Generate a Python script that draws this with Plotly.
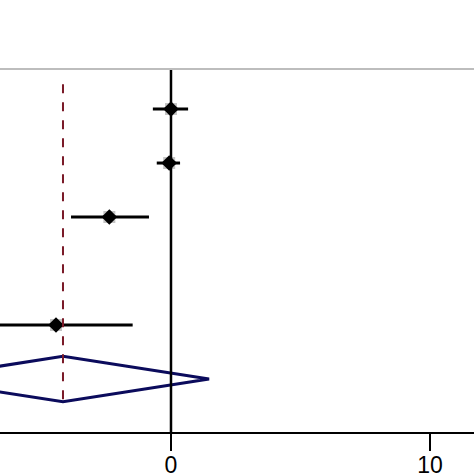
import plotly.graph_objects as go

# study rows (row index on the y axis, top to bottom)
rows = [1, 2, 3, 5]
estimate = [0.0, -0.07, -2.38, -4.44]
ci_low = [-0.70, -0.55, -3.86, -7.38]
ci_high = [0.66, 0.35, -0.85, -1.48]

# pooled estimate (diamond)
pooled_row = 6
pooled_est = -4.17
pooled_low = -9.81
pooled_high = 1.47

x_ticks = [-10, 0, 10, 20]

fig = go.Figure()

# weight boxes behind the points
fig.add_trace(go.Scatter(
    x=estimate, y=rows, mode="markers",
    marker=dict(symbol="square", size=12, color="#c4c4c4"),
    hoverinfo="skip",
))

# confidence intervals and point estimates
fig.add_trace(go.Scatter(
    x=estimate, y=rows, mode="markers",
    marker=dict(symbol="diamond", size=12, color="black"),
    error_x=dict(
        type="data", symmetric=False,
        array=[h - e for h, e in zip(ci_high, estimate)],
        arrayminus=[e - l for l, e in zip(ci_low, estimate)],
        color="black", thickness=3, width=0,
    ),
))

# pooled diamond
half = 0.42
fig.add_trace(go.Scatter(
    x=[pooled_low, pooled_est, pooled_high, pooled_est, pooled_low],
    y=[pooled_row, pooled_row - half, pooled_row, pooled_row + half, pooled_row],
    mode="lines", line=dict(color="#0b0b5c", width=3),
))

# dashed line at pooled estimate
fig.add_shape(type="line", x0=pooled_est, x1=pooled_est, y0=0.54, y1=6.41,
              line=dict(color="#7a1a28", width=2, dash="dash"))

# no-effect line
fig.add_shape(type="line", x0=0, x1=0, y0=0.26, y1=6.98,
              line=dict(color="black", width=2.5))

# grey header rule
fig.add_shape(type="line", xref="paper", x0=0, x1=1, y0=0.26, y1=0.26,
              line=dict(color="#bdbdbd", width=2))

fig.update_xaxes(
    range=[-6.602, 11.699],
    tickvals=x_ticks,
    ticks="outside", ticklen=17, tickwidth=2, tickcolor="black",
    showline=True, linecolor="black", linewidth=2,
    showgrid=False, zeroline=False, automargin=False,
    ticklabelstandoff=-6,
    tickfont=dict(family="Liberation Sans, Arial", size=23, color="black"),
)
fig.update_yaxes(
    range=[6.981, -1.019],
    visible=False, showgrid=False, zeroline=False,
)

fig.update_layout(
    width=474, height=474,
    margin=dict(l=0, r=0, t=0, b=42),
    plot_bgcolor="white", paper_bgcolor="white",
    showlegend=False,
)

# drop the page's default body margin so the figure fills the window
fig.write_html("out.html", config={"displayModeBar": False},
               post_script="document.body.style.margin='0';")
